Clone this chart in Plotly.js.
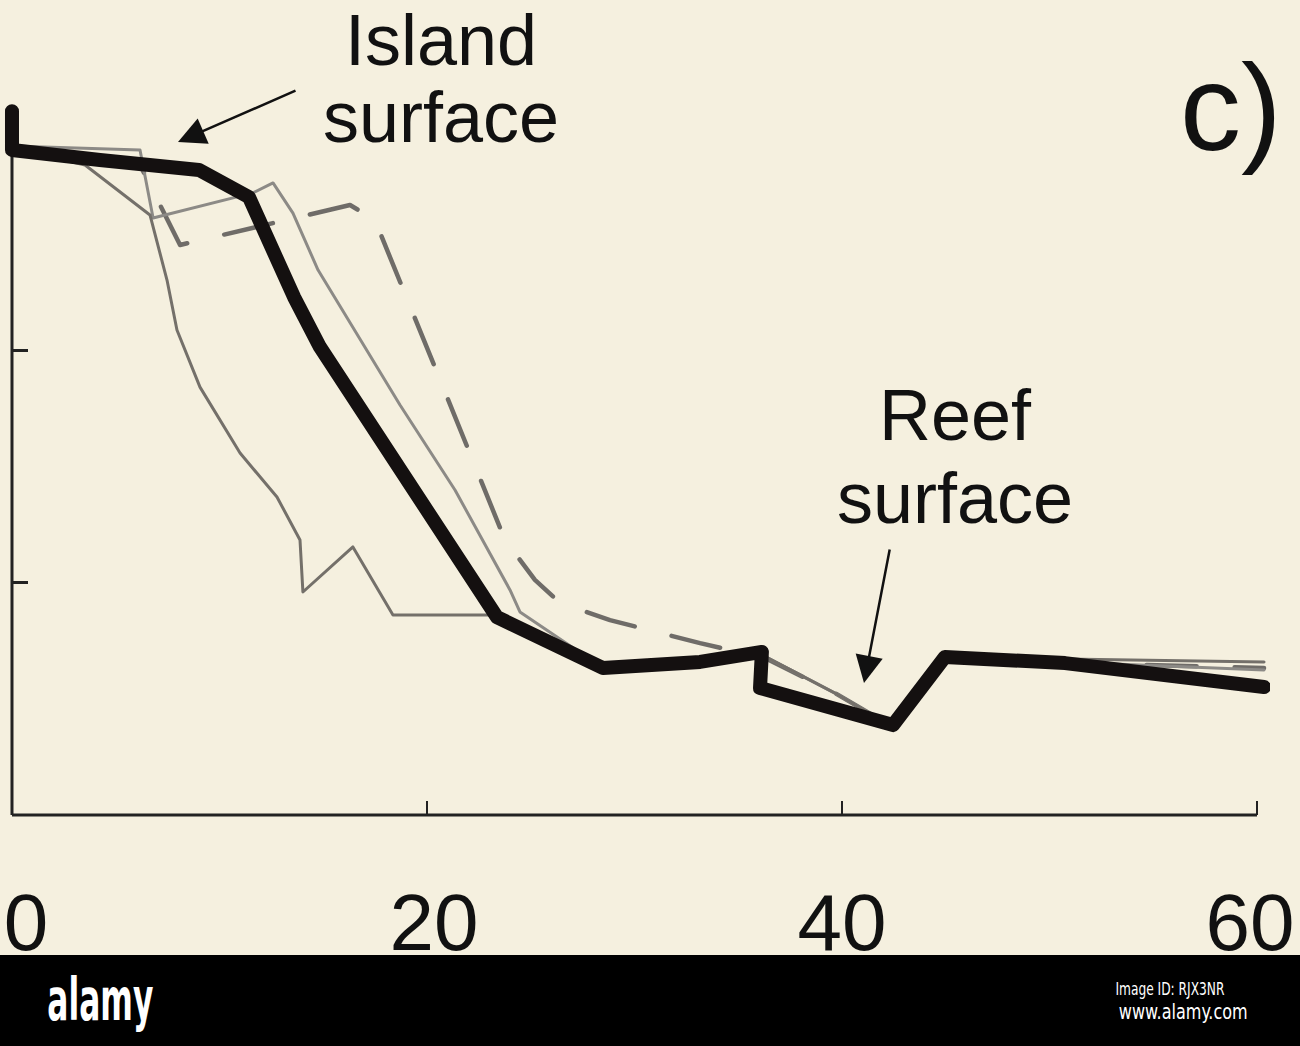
<!DOCTYPE html>
<html>
<head>
<meta charset="utf-8">
<script src="https://cdn.plot.ly/plotly-3.0.1.min.js"></script>
<style>
  html, body { margin: 0; padding: 0; background: #f5f0df; }
  #chart { width: 1300px; height: 1046px; }
  .scatterlayer path.js-line { stroke-linejoin: round; stroke-linecap: round; }
</style>
</head>
<body>
<div id="chart"></div>
<script>
// ---- data (distance along profile vs. relative elevation) ----
const xTickVals = [0, 20, 40, 60];
const xTickText = ["0", "20", "40", "60"];
const yTickVals = [1, 2];

// thick black profile
const blackX = [0, 0, 4.24, 9.01, 11.42, 12.48, 13.59, 14.84, 18.12, 23.37, 28.48, 33.16, 36.14, 36.05, 42.46, 44.96, 50.75, 54.75, 60.34];
const blackY = [3.03, 2.863, 2.82, 2.777, 2.66, 2.445, 2.23, 2.015, 1.567, 0.852, 0.633, 0.659, 0.702, 0.547, 0.387, 0.68, 0.654, 0.611, 0.551];

// thin grey profile 1 (left-most)
const grey1X = [0, 3.52, 6.65, 7.47, 7.95, 9.06, 10.99, 12.77, 13.88, 14.02, 16.43, 18.36, 23.18, 28.48, 36.14, 39.66, 42.46, 44.96, 60.34];
const grey1Y = [2.871, 2.798, 2.583, 2.303, 2.088, 1.842, 1.558, 1.369, 1.184, 0.96, 1.154, 0.861, 0.861, 0.633, 0.689, 0.525, 0.379, 0.68, 0.659];

// thin grey profile 2
const grey2X = [0, 6.17, 6.80, 11.61, 12.58, 13.54, 14.75, 18.70, 21.35, 24.0, 24.48, 28.48, 36.14, 39.66, 42.46, 44.96, 60.34];
const grey2Y = [2.88, 2.863, 2.57, 2.678, 2.721, 2.591, 2.346, 1.765, 1.399, 0.969, 0.874, 0.633, 0.689, 0.525, 0.379, 0.68, 0.624];

// dashed grey profile
const dashX = [0, 4.24, 6.17, 8.10, 16.29, 17.49, 20.63, 23.76, 25.2, 26.41, 28.82, 33.16, 36.29, 39.66, 42.46, 44.96, 60.34];
const dashY = [2.871, 2.833, 2.798, 2.454, 2.626, 2.561, 1.873, 1.184, 1.012, 0.913, 0.839, 0.74, 0.676, 0.525, 0.379, 0.667, 0.633];

// ---- drawing ----
const ink = '#141010';
const txtFont = 'Liberation Sans, Arial, Helvetica, sans-serif';
const narrow = 'Liberation Sans Narrow, Arial Narrow, DejaVu Sans Condensed, sans-serif';

const traces = [
  { x: dashX, y: dashY, mode: 'lines', line: { color: '#6f6c68', width: 4.5, dash: '50px,38px' } },
  { x: grey2X, y: grey2Y, mode: 'lines', line: { color: '#8c8a86', width: 3 } },
  { x: grey1X, y: grey1Y, mode: 'lines', line: { color: '#74706a', width: 3 } },
  { x: blackX, y: blackY, mode: 'lines', line: { color: ink, width: 14 } },
  // empty carrier so the label-only axis (x2) is drawn; it has no visible marks
  { x: xTickVals, y: xTickVals.map(function () { return null; }), xaxis: 'x2', yaxis: 'y',
    mode: 'lines', line: { width: 0 }, hoverinfo: 'skip' }
];

const layout = {
  width: 1300, height: 1046,
  margin: { l: 0, r: 30, t: 100, b: 231, pad: 0 },
  paper_bgcolor: '#f5f0df',
  plot_bgcolor: '#f5f0df',
  showlegend: false,
  xaxis: {
    range: [-0.578, 60.627],
    showline: false, showgrid: false, zeroline: false,
    ticks: 'inside', ticklen: 14, tickwidth: 2.5, tickcolor: '#222',
    tickvals: xTickVals, showticklabels: false
  },
  // label-only axis: the printed tick numbers sit on a slightly narrower spacing than the tick marks
  xaxis2: {
    overlaying: 'x', anchor: 'y', side: 'bottom',
    range: [-26 / 20.4, (1270 - 26) / 20.4],
    showline: false, showgrid: false, zeroline: false, ticks: '',
    tickvals: xTickVals, ticktext: xTickText,
    tickfont: { family: txtFont, size: 80, color: '#111' },
    ticklabelstandoff: 54,
    ticklabeloverflow: 'allow'
  },
  yaxis: {
    range: [0, 3.078],
    anchor: 'free', position: 12 / 1270,
    showline: false,
    showgrid: false, zeroline: false,
    ticks: 'inside', ticklen: 15, tickwidth: 2.5, tickcolor: '#222',
    tickvals: yTickVals, showticklabels: false
  },
  shapes: [
    { type: 'line', xref: 'x', yref: 'paper', x0: 0, x1: 60, y0: 0, y1: 0,
      line: { color: '#222', width: 3 } },
    { type: 'line', xref: 'x', yref: 'y', x0: 0, x1: 0, y0: 0, y1: 2.9,
      line: { color: '#222', width: 3 }, layer: 'below' },
    { type: 'rect', xref: 'paper', yref: 'paper', x0: -0.01, x1: 1.04, y0: -0.1958, y1: -0.335,
      fillcolor: '#000000', line: { width: 0 }, layer: 'above' }
  ],
  annotations: [
    { text: 'Island', xref: 'paper', yref: 'paper', x: 0.3472, y: 1.0845, xanchor: 'center', yanchor: 'middle',
      showarrow: false, font: { family: txtFont, size: 72, color: '#111' } },
    { text: 'surface', xref: 'paper', yref: 'paper', x: 0.3472, y: 0.9762, xanchor: 'center', yanchor: 'middle',
      showarrow: false, font: { family: txtFont, size: 72, color: '#111' } },
    { text: 'c)', xref: 'paper', yref: 'paper', x: 0.9693, y: 0.9888, xanchor: 'center', yanchor: 'middle',
      showarrow: false, font: { family: txtFont, size: 122, color: '#111' } },
    { text: 'Reef', xref: 'paper', yref: 'paper', x: 0.752, y: 0.5594, xanchor: 'center', yanchor: 'middle',
      showarrow: false, font: { family: txtFont, size: 72, color: '#111' } },
    { text: 'surface', xref: 'paper', yref: 'paper', x: 0.752, y: 0.4434, xanchor: 'center', yanchor: 'middle',
      showarrow: false, font: { family: txtFont, size: 72, color: '#111' } },
    { text: '', x: 8.0, y: 2.897, xref: 'x', yref: 'y', ax: 119, ay: -52,
      showarrow: true, arrowhead: 2, arrowsize: 2.2, arrowwidth: 2.5, arrowcolor: '#111' },
    { text: '', x: 41.06, y: 0.568, xref: 'x', yref: 'y', ax: 26, ay: -135,
      showarrow: true, arrowhead: 2, arrowsize: 2.2, arrowwidth: 2.5, arrowcolor: '#111' },
    { text: '<b>alamy</b>', xref: 'paper', yref: 'paper', x: 0.0795, y: -0.2587, xanchor: 'center', yanchor: 'middle',
      showarrow: false, font: { family: narrow, size: 58, color: '#ffffff' } },
    { text: 'Image ID: RJX3NR', xref: 'paper', yref: 'paper', x: 0.9661, y: -0.2434, xanchor: 'right', yanchor: 'middle',
      showarrow: false, font: { family: narrow, size: 17, color: '#ffffff' } },
    { text: 'www.alamy.com', xref: 'paper', yref: 'paper', x: 0.9843, y: -0.2755, xanchor: 'right', yanchor: 'middle',
      showarrow: false, font: { family: narrow, size: 21, color: '#ffffff' } }
  ]
};

Plotly.newPlot('chart', traces, layout, { staticPlot: true, displayModeBar: false }).then(function () {
  // condense the watermark strip texts horizontally (narrow lettering)
  document.querySelectorAll('.annotation-text').forEach(function (t) {
    var s = t.textContent, k = null, anchor = 'center';
    if (s === 'alamy') { k = 0.6; }
    else if (s === 'Image ID: RJX3NR') { k = 0.8; anchor = 'right'; }
    else if (s === 'www.alamy.com') { k = 0.85; anchor = 'right'; }
    if (k === null) return;
    var bb = t.getBBox();
    var cx = anchor === 'right' ? bb.x + bb.width : bb.x + bb.width / 2;
    var prev = t.getAttribute('transform') || '';
    t.setAttribute('transform', 'translate(' + cx + ',0) scale(' + k + ',1) translate(' + (-cx) + ',0) ' + prev);
  });
});
</script>
</body>
</html>
